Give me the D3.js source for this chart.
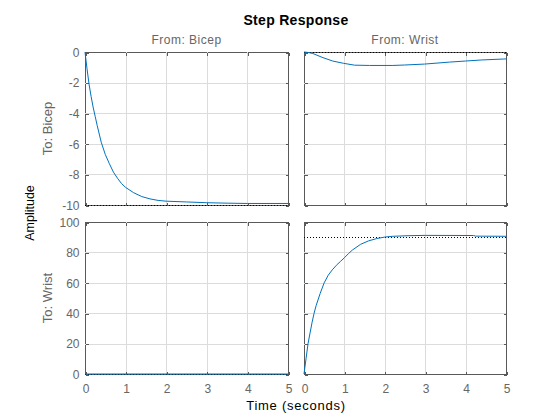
<!DOCTYPE html>
<html>
<head>
<meta charset="utf-8">
<script src="https://cdn.jsdelivr.net/npm/d3@7"></script>
<style>
  body { margin: 0; background: #fff; }
  svg { font-family: "Liberation Sans", Arial, sans-serif; }
  .box { fill: #fff; stroke: #595959; stroke-width: 1; shape-rendering: crispEdges; }
  .grid line { stroke: #dcdcdc; stroke-width: 1; shape-rendering: crispEdges; }
  .axis path { display: none; }
  .axis line { stroke: #595959; shape-rendering: crispEdges; }
  .axis text { fill: #666; font-size: 12px; }
  .resp { fill: none; stroke: #0072bd; stroke-width: 1; }
  .steady { fill: none; stroke: #000; stroke-width: 1; stroke-dasharray: 1,2; shape-rendering: crispEdges; }
  .io { fill: #666; }
</style>
</head>
<body>
<script>

// input / output channel names
var inputs = ["Bicep", "Wrist"],
    outputs = ["Bicep", "Wrist"];

// tick labels
var timeTicks = [0, 1, 2, 3, 4, 5],
    bicepTicks = [-10, -8, -6, -4, -2, 0],
    wristTicks = [0, 20, 40, 60, 80, 100];

// step response: Bicep -> Bicep
var tBicepBicep = [0, 0.05, 0.1, 0.15, 0.2, 0.25, 0.3, 0.4, 0.5, 0.6, 0.7, 0.8, 0.9, 1.0, 1.2, 1.4, 1.6, 1.8, 2.0, 2.5, 3.0, 3.5, 4.0, 5.0],
    yBicepBicep = [0, -1.1, -2.1, -2.9, -3.6, -4.2, -4.8, -5.9, -6.7, -7.3, -7.85, -8.25, -8.6, -8.85, -9.2, -9.45, -9.6, -9.7, -9.75, -9.8, -9.85, -9.88, -9.9, -9.9];

// step response: Wrist -> Bicep
var tWristBicep = [0, 0.1, 0.22, 0.47, 0.71, 0.98, 1.25, 1.62, 2.2, 2.49, 2.98, 3.6, 4.0, 4.4, 4.93, 5.0],
    yWristBicep = [0, -0.03, -0.1, -0.37, -0.59, -0.74, -0.86, -0.88, -0.88, -0.85, -0.79, -0.66, -0.59, -0.52, -0.46, -0.45];

// step response: Bicep -> Wrist
var tBicepWrist = [0, 5],
    yBicepWrist = [0, 0];

// step response: Wrist -> Wrist
var tWristWrist = [0, 0.05, 0.1, 0.15, 0.2, 0.25, 0.3, 0.4, 0.5, 0.6, 0.7, 0.8, 0.9, 1.0, 1.1, 1.2, 1.4, 1.6, 1.8, 2.0, 2.2, 2.6, 3.0, 4.2, 4.25, 5.0],
    yWristWrist = [0, 10, 20, 27, 34, 40, 45, 53, 60, 65, 68.5, 71.5, 74, 76.5, 79.2, 81.6, 85.3, 87.6, 89.1, 90.1, 90.6, 91, 91.2, 91.1, 90.7, 90.6];

// steady state values [output][input]
var steadyBicep = [-10, 0],
    steadyWrist = [0, 90];

var width = 560,
    height = 420;

var svg = d3.select("body")
    .append("svg")
    .attr("width", width)
    .attr("height", height);

// panel frames
var colX = [[85, 288], [304, 506]],
    rowY = [[52, 205], [222, 374]];

var x = colX.map(function(r){
    return d3.scaleLinear().domain([0, 5]).range(r);
});
var y = [
    d3.scaleLinear().domain([-10, 0]).range([rowY[0][1], rowY[0][0]]),
    d3.scaleLinear().domain([0, 100]).range([rowY[1][1], rowY[1][0]])
];

var yTicks = [bicepTicks, wristTicks];

var responses = [
    [[tBicepBicep, yBicepBicep], [tWristBicep, yWristBicep]],
    [[tBicepWrist, yBicepWrist], [tWristWrist, yWristWrist]]
];
var steady = [steadyBicep, steadyWrist];

// plain labels with an ascii minus sign
var fmt = function(d){ return String(d); };

for (var r = 0; r < 2; r++) {
    for (var c = 0; c < 2; c++) {
        var xs = x[c], ys = y[r];
        var g = svg.append("g");

        g.append("rect")
            .attr("class", "box")
            .attr("x", xs.range()[0] + 0.5)
            .attr("y", ys.range()[1] + 0.5)
            .attr("width", xs.range()[1] - xs.range()[0])
            .attr("height", ys.range()[0] - ys.range()[1]);

        // grid lines
        var grid = g.append("g").attr("class", "grid");
        grid.selectAll(".gx")
            .data(timeTicks.slice(1, -1))
            .enter()
            .append("line")
            .attr("x1", function(d){ return xs(d) + 0.5; })
            .attr("x2", function(d){ return xs(d) + 0.5; })
            .attr("y1", ys.range()[1])
            .attr("y2", ys.range()[0]);
        grid.selectAll(".gy")
            .data(yTicks[r].slice(1, -1))
            .enter()
            .append("line")
            .attr("x1", xs.range()[0])
            .attr("x2", xs.range()[1])
            .attr("y1", function(d){ return ys(d) + 0.5; })
            .attr("y2", function(d){ return ys(d) + 0.5; });

        // axes with inward ticks
        var left = d3.axisLeft(ys).tickValues(yTicks[r]).tickSize(-3).tickPadding(6).tickFormat(fmt);
        if (c > 0) left.tickFormat("");
        g.append("g").attr("class", "axis")
            .attr("transform", "translate(" + (xs.range()[0] + 0.5) + ",0.5)")
            .call(left);
        g.append("g").attr("class", "axis")
            .attr("transform", "translate(" + (xs.range()[1] + 0.5) + ",0.5)")
            .call(d3.axisRight(ys).tickValues(yTicks[r]).tickSize(-3).tickFormat(""));

        var bottom = d3.axisBottom(xs).tickValues(timeTicks).tickSize(-3).tickPadding(10).tickFormat(fmt);
        if (r == 0) bottom.tickFormat("");
        g.append("g").attr("class", "axis")
            .attr("transform", "translate(0.5," + (ys.range()[0] + 0.5) + ")")
            .call(bottom);
        g.append("g").attr("class", "axis")
            .attr("transform", "translate(0.5," + (ys.range()[1] + 0.5) + ")")
            .call(d3.axisTop(xs).tickValues(timeTicks).tickSize(-3).tickFormat(""));

        // steady state line
        g.append("line")
            .attr("class", "steady")
            .attr("x1", xs(0))
            .attr("x2", xs(5))
            .attr("y1", ys(steady[r][c]) + 0.5)
            .attr("y2", ys(steady[r][c]) + 0.5);

        // response curve
        var pts = d3.zip(responses[r][c][0], responses[r][c][1]);
        g.append("path")
            .datum(pts)
            .attr("class", "resp")
            .attr("d", d3.line()
                .x(function(d){ return xs(d[0]); })
                .y(function(d){ return ys(d[1]); }));
    }
}

// input labels
svg.selectAll(".from")
    .data(inputs)
    .enter()
    .append("text")
    .attr("class", "io")
    .attr("x", function(d, i){ return (colX[i][0] + colX[i][1]) / 2; })
    .attr("y", 44)
    .attr("text-anchor", "middle")
    .style("font-size", "12px")
    .style("letter-spacing", "0.5px")
    .text(function(d){ return "From: " + d; });

// output labels
svg.selectAll(".to")
    .data(outputs)
    .enter()
    .append("text")
    .attr("class", "io")
    .attr("transform", function(d, i){
        return "translate(52," + (rowY[i][0] + rowY[i][1]) / 2 + ") rotate(-90)";
    })
    .attr("text-anchor", "middle")
    .style("font-size", "13px")
    .text(function(d){ return "To: " + d; });

// title and axis labels
svg.append("text")
    .attr("x", 296)
    .attr("y", 25)
    .attr("text-anchor", "middle")
    .style("font-size", "14px")
    .style("font-weight", "bold")
    .style("letter-spacing", "0.3px")
    .text("Step Response");

svg.append("text")
    .attr("x", 296)
    .attr("y", 410)
    .attr("text-anchor", "middle")
    .style("font-size", "13px")
    .style("letter-spacing", "0.75px")
    .text("Time (seconds)");

svg.append("text")
    .attr("transform", "translate(34,213) rotate(-90)")
    .attr("text-anchor", "middle")
    .style("font-size", "12.5px")
    .text("Amplitude");

</script>
</body>
</html>
